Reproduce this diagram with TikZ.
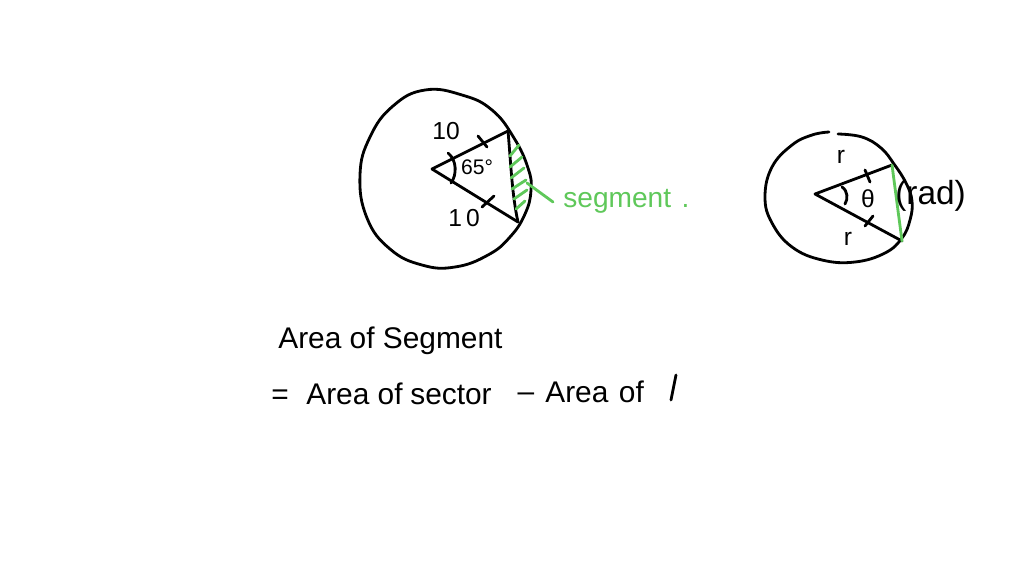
\documentclass[tikz,border=0pt]{standalone}
\usepackage{fontspec}
\setmainfont{Liberation Sans}
\definecolor{pen}{RGB}{0,0,0}
\definecolor{hl}{RGB}{95,200,90}
\begin{document}
\begin{tikzpicture}[x=0.02cm,y=-0.02cm,
  ink/.style={draw=pen,line width=1.6pt,line cap=round,line join=round},
  gink/.style={draw=hl,line width=1.6pt,line cap=round,line join=round},
  lbl/.style={inner sep=0pt,font=\fontsize{14}{16}\selectfont,text=pen},
  big/.style={inner sep=0pt,font=\fontsize{17}{20}\selectfont,text=pen},
  glbl/.style={inner sep=0pt,font=\fontsize{16}{19}\selectfont,text=hl}]
\useasboundingbox[fill=white] (0,0) rectangle (1024,576);

% ---------- circle 1 ----------
\draw[ink] plot[smooth cycle,tension=0.75] coordinates {(425,90) (462,95) (492,110) (514,138) (528,168) (531,190) (525,214) (510,237) (488,255) (455,267) (422,265) (390,249) (367,218) (360,175) (370,137) (393,106)};
\coordinate (O1) at (432,169);
\coordinate (P1) at (508,131);
\coordinate (Q1) at (518,222);
\draw[ink] (P1) -- (O1) -- (Q1);
\draw[ink] (P1) .. controls (511,165) and (512,195) .. (Q1);
% ticks
\draw[ink] (478,136) -- (487,147);
\draw[ink] (482,207) -- (494,196);
% angle arc
\draw[ink] (448,153) .. controls (457,160) and (457,175) .. (451,183);
% hatching
\draw[gink] (510,156) -- (519,145);
\draw[gink] (510,167) -- (522,157);
\draw[gink] (511,178) -- (524,168);
\draw[gink] (512,189) -- (526,180);
\draw[gink] (514,199) -- (527,190);
\draw[gink] (516,209) -- (525,201);
\node[lbl] (t10a) at (446,131) {10};
\node[lbl] (t10b) at (464,218) {1\,0};
\node[inner sep=0pt,font=\fontsize{12}{14}\selectfont] (t65) at (477,167) {65°};
% pointer + label
\node[glbl,anchor=base west] (seg) at (563,207) {segment\hspace{6pt}.};
\coordinate (pt) at (527,183);
\draw[gink] (pt) -- (553,202);

% ---------- circle 2 ----------
\draw[ink] plot[smooth,tension=0.7] coordinates {(838,134) (862,137) (881,148) (894,164) (906,183) (912,201) (910,220) (902,238) (885,253) (855,262) (822,260) (792,247) (772,223) (765,197) (772,167) (792,145) (812,135) (829,132)};
\coordinate (O2) at (815,194);
\coordinate (P2) at (892,165);
\coordinate (Q2) at (902,241);
\draw[ink] (P2) -- (O2) -- (Q2);
\draw[gink] (P2) -- (Q2);
\draw[ink] (865,170) -- (870,182);
\draw[ink] (865,226) -- (873,216);
\draw[ink] (842,187) .. controls (848,191) and (848,199) .. (845,204);
\node[lbl] (r1) at (841,157) {r};
\node[lbl] (r2) at (848,239) {r};
\node[lbl] (th) at (868,199) {θ};
\node[inner sep=0pt,font=\fontsize{19}{22}\selectfont,anchor=west] (rad) at (895,196) {(rad)};

% ---------- text ----------
\node[big,anchor=base west] (l1) at (278,348) {Area of Segment};
\node[big] (eq) at (280,397) {=};
\node[big,anchor=base west] (a1) at (306,404) {Area of};
\node[big,anchor=base west] (sec) at (410,404) {sector};
\node[big] (minus) at (526,397) {–};
\node[big,anchor=base west] (a2) at (545,402) {Area\hspace{6pt}of};
\coordinate (s1) at (676,375);
\coordinate (s2) at (671,400);
\draw[ink] (s1) -- (s2);
\end{tikzpicture}
\end{document}
